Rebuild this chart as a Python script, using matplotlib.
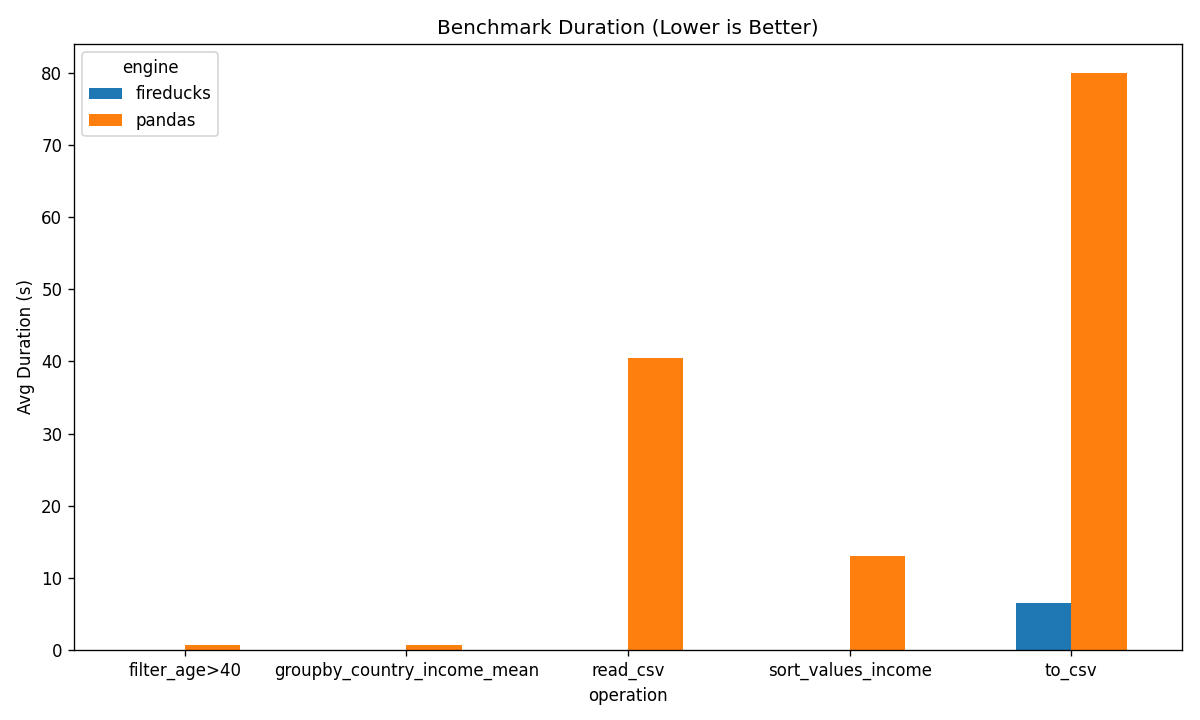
import matplotlib
matplotlib.use("Agg")
import matplotlib.pyplot as plt
import pandas as pd

# Средняя длительность операций, с
operations = ["filter_age>40", "groupby_country_income_mean", "read_csv",
              "sort_values_income", "to_csv"]
fireducks = [0.004, 0.005, 0.006, 0.005, 6.5]
pandas_vals = [0.65, 0.75, 40.5, 13.0, 80.0]

df = pd.DataFrame({"fireducks": fireducks, "pandas": pandas_vals},
                  index=pd.Index(operations, name="operation"))
df.columns.name = "engine"

fig, ax = plt.subplots(figsize=(10, 6), dpi=120)
df.plot(kind="bar", ax=ax, rot=0)
ax.set_title("Benchmark Duration (Lower is Better)")
ax.set_ylabel("Avg Duration (s)")
ax.set_xlabel("operation")
fig.subplots_adjust(left=0.0617, right=0.985, top=0.939, bottom=0.0972)
fig.savefig("out.png", dpi=120)
